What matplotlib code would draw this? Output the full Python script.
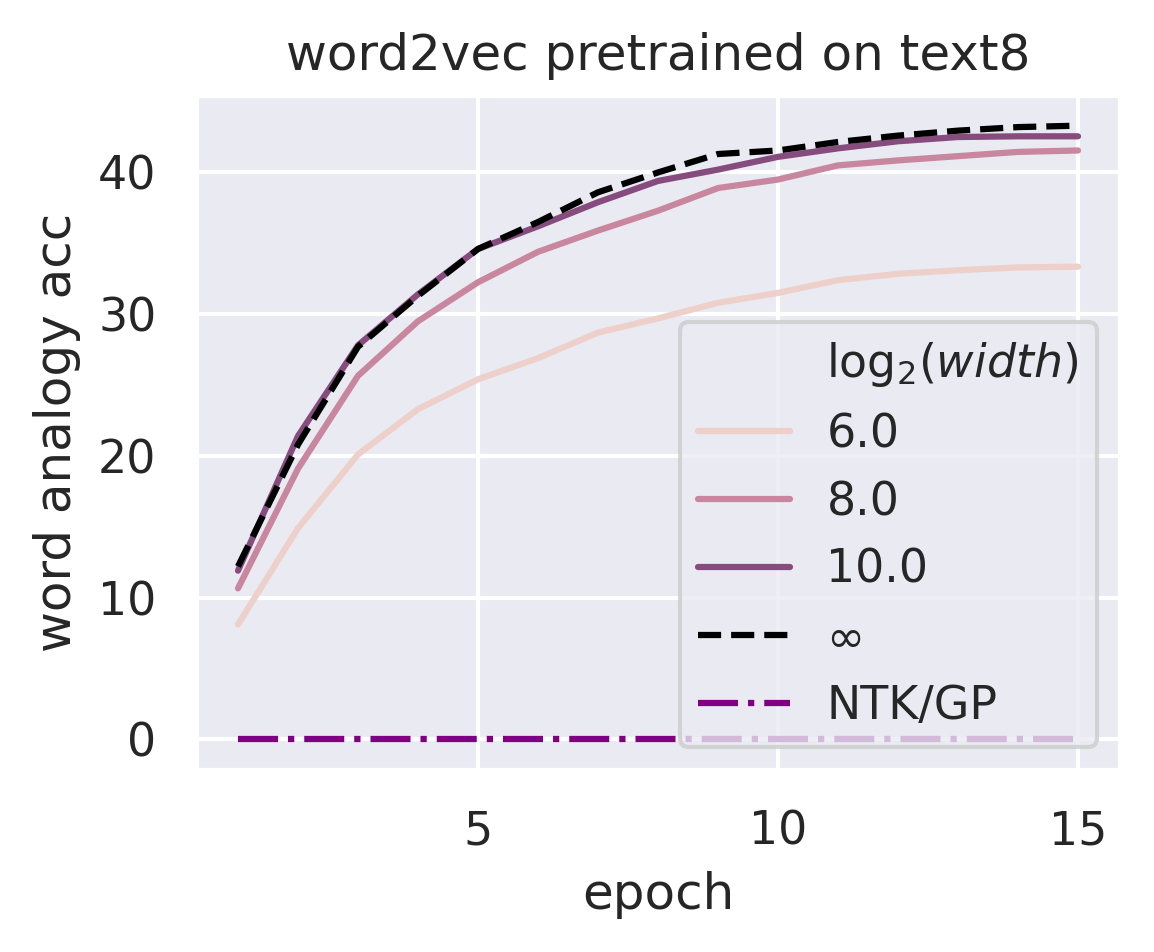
import matplotlib
matplotlib.use("Agg")
import matplotlib.pyplot as plt
import seaborn as sns
from matplotlib.lines import Line2D

epochs = list(range(1, 16))
acc_w6 = [8.1, 14.9, 20.1, 23.3, 25.4, 26.9, 28.7, 29.7, 30.8, 31.5, 32.4, 32.85, 33.1, 33.3, 33.35]
acc_w8 = [10.65, 19.1, 25.65, 29.5, 32.25, 34.4, 35.9, 37.3, 38.9, 39.5, 40.5, 40.85, 41.15, 41.45, 41.55]
acc_w10 = [11.9, 21.4, 27.8, 31.4, 34.6, 36.2, 37.9, 39.4, 40.2, 41.1, 41.7, 42.2, 42.5, 42.55, 42.55]
acc_inf = [12.2, 20.8, 27.7, 31.3, 34.6, 36.5, 38.6, 40.0, 41.3, 41.55, 42.15, 42.6, 42.95, 43.2, 43.3]
acc_ntk = [0.0] * 15

width_labels = ["6.0", "8.0", "10.0"]
width_colors = ["#eed0ca", "#c9869f", "#874c7e"]

sns.set_theme(style="darkgrid")
plt.rcParams['font.family'] = ['DejaVu Sans']

fig = plt.figure(figsize=(1154/300, 952/300), dpi=300)
ax = fig.add_axes([196/1154, 1-770/952, (1120-196)/1154, (770-95)/952])

for ys, c in zip([acc_w6, acc_w8, acc_w10], width_colors):
    ax.plot(epochs, ys, color=c, lw=1.5)
ax.plot(epochs, acc_inf, color="black", ls="--", lw=1.5)
ax.plot(epochs, acc_ntk, color="purple", ls="-.", lw=1.5)

ax.set_xticks([5, 10, 15])
ax.set_yticks([0, 10, 20, 30, 40])
ax.set_xlabel("epoch")
ax.set_ylabel("word analogy acc")
ax.set_title("word2vec pretrained on text8")

handles = [Line2D([], [], color="none")]
labels = [r"$\mathrm{log}_2(width)$"]
for lab, c in zip(width_labels, width_colors):
    handles.append(Line2D([], [], color=c, lw=1.5))
    labels.append(lab)
handles.append(Line2D([], [], color="black", ls="--", lw=1.5))
labels.append(r"$\infty$")
handles.append(Line2D([], [], color="purple", ls="-.", lw=1.5))
labels.append("NTK/GP")
ax.legend(handles, labels, loc="lower right")

fig.savefig("out.png", dpi=300)
